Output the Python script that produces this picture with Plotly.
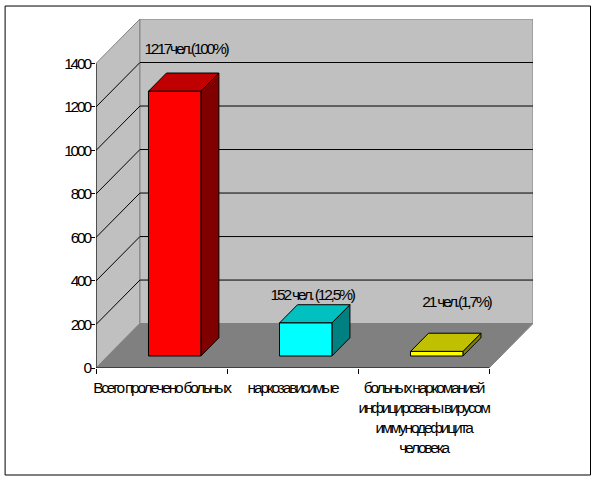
import plotly.graph_objects as go

categories = ["Всего пролечено больных", "наркозависимые",
              "больных наркоманией<br>инфицированы вирусом<br>иммунодефицита<br>человека"]
values = [1217, 152, 21]
value_labels = ["1217чел.(100%)", "152 чел. (12,5%)", "21 чел.(1,7%)"]
y_ticks = [0, 200, 400, 600, 800, 1000, 1200, 1400]

FONT = "Liberation Sans"
FSIZE = 15.5
DX = 44 / 131.2      # depth of chart box in category units
DY = 44.5 * 1400 / 305  # depth of chart box in value units
Z0, Z1 = 0.27, 0.68  # bar front/back depth
BAR_W = 0.40
BAR_OFF = 0.01
YMAX = 1400
N = 3


def pj(x, v, z=0.0):
    return x + z * DX, v + z * DY


def poly(points, fill, line="black", width=1):
    xs, ys = zip(*points)
    return go.Scatter(x=list(xs) + [xs[0]], y=list(ys) + [ys[0]], mode="lines", fill="toself",
                      fillcolor=fill, line=dict(color=line, width=width),
                      hoverinfo="skip", showlegend=False, cliponaxis=False)


def seg(a, b, color="black", width=1):
    return go.Scatter(x=[a[0], b[0]], y=[a[1], b[1]], mode="lines",
                      line=dict(color=color, width=width),
                      hoverinfo="skip", showlegend=False, cliponaxis=False)


fig = go.Figure()
GRAY, DARK = "#C0C0C0", "#808080"
# walls and floor
fig.add_trace(poly([pj(0, 0), pj(0, YMAX), pj(0, YMAX, 1), pj(0, 0, 1)], GRAY, DARK))
fig.add_trace(poly([pj(0, 0, 1), pj(0, YMAX, 1), pj(N, YMAX, 1), pj(N, 0, 1)], GRAY, DARK))
fig.add_trace(poly([pj(0, 0), pj(N, 0), pj(N, 0, 1), pj(0, 0, 1)], DARK, DARK))
# gridlines
for t in y_ticks[1:-1]:
    fig.add_trace(seg(pj(0, t), pj(0, t, 1)))
    fig.add_trace(seg(pj(0, t, 1), pj(N, t, 1)))
# axis lines
fig.add_trace(seg((0, 0), (0, YMAX)))
fig.add_trace(seg((0, 0), (N, 0)))

# bars
bar_colors = [("#FF0000", "#C00000", "#800000"),
              ("#00FFFF", "#00C0C0", "#008080"),
              ("#FFFF00", "#C0C000", "#808000")]
for i, (v, (front, top, side)) in enumerate(zip(values, bar_colors)):
    c = i + 0.5 + BAR_OFF
    l, r = c - BAR_W / 2, c + BAR_W / 2
    fig.add_trace(poly([pj(r, 0, Z0), pj(r, 0, Z1), pj(r, v, Z1), pj(r, v, Z0)], side))
    fig.add_trace(poly([pj(l, v, Z0), pj(r, v, Z0), pj(r, v, Z1), pj(l, v, Z1)], top))
    fig.add_trace(poly([pj(l, 0, Z0), pj(r, 0, Z0), pj(r, v, Z0), pj(l, v, Z0)], front))

# data labels
label_shift = [(-5, 24.5), (-10, 10.5), (3, 32)]
annotations = []
for i, (v, txt, (sx, sy)) in enumerate(zip(values, value_labels, label_shift)):
    x, y = pj(i + 0.5, v, Z1)
    annotations.append(dict(x=x, y=y, text=txt, showarrow=False, xanchor="center", yanchor="middle",
                            xshift=sx, yshift=sy, font=dict(family=FONT, size=FSIZE, color="black")))

# outer frame
shapes = [dict(type="rect", xref="paper", yref="paper", x0=-0.208, x1=1.1316, y0=-0.3066, y1=1.0372,
               line=dict(color="black", width=1), fillcolor="rgba(0,0,0,0)", layer="below")]

fig.update_layout(
    width=596, height=481, margin=dict(l=96, r=63, t=19, b=113),
    paper_bgcolor="white", plot_bgcolor="white", showlegend=False,
    annotations=annotations, shapes=shapes,
    font=dict(family=FONT, size=FSIZE, color="black"),
    xaxis=dict(range=[0, N + DX], showgrid=False, zeroline=False, showline=False,
               tickmode="array", tickvals=[0.5, 1.5, 2.5], ticktext=categories, ticks="",
               minor=dict(tick0=0, dtick=1, ticks="outside", ticklen=5,
                          tickcolor="black", tickwidth=1, showgrid=False),
               tickangle=0, ticklabelstandoff=8),
    yaxis=dict(range=[0, YMAX + DY], showgrid=False, zeroline=False, showline=False,
               tickmode="array", tickvals=y_ticks, ticks="outside", ticklen=4,
               tickcolor="black", tickwidth=1, ticklabelstandoff=-2),
)
post = ("document.body.style.margin='0';document.body.style.overflow='hidden';"
        "document.querySelectorAll('svg text').forEach(function(t){t.style.letterSpacing='-2.2px';});")
fig.write_html("out.html", post_script=post, config={"displayModeBar": False})
